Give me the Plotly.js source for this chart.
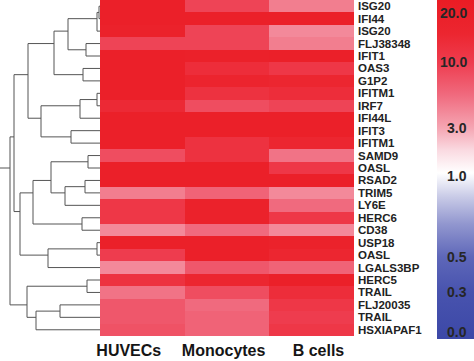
<!DOCTYPE html>
<html>
<head>
<meta charset="utf-8">
<script src="https://cdn.plot.ly/plotly-3.0.1.min.js"></script>
<style>html,body{margin:0;padding:0;background:#fff;}#chart{width:474px;height:361px;}</style>
</head>
<body>
<div id="chart"></div>
<script>
// ---- data ----
var cellTypes = ['HUVECs', 'Monocytes', 'B cells'];
var genes = ['ISG20','IFI44','ISG20','FLJ38348','IFIT1','OAS3','G1P2','IFITM1','IRF7','IFI44L',
             'IFIT3','IFITM1','SAMD9','OASL','RSAD2','TRIM5','LY6E','HERC6','CD38','USP18',
             'OASL','LGALS3BP','HERC5','TRAIL','FLJ20035','TRAIL','HSXIAPAF1'];
var huvecs    = [20,20,18,9,20,20,20,20,14,20,20,20,8,20,20,4.5,11,11,4,20,10,4,12,5,7,7,7.5];
var monocytes = [9,20,9,9,19,13,16,12,8,20,20,12,12,20,20,6,18,18,5.5,20,20,7,15,8,5.5,6,6];
var bcells    = [4.5,20,4,4.5,20,11,15,13,9,20,20,15,5,11,20,4,5.5,11,4,18,15,6,20,13,11,10,11];
var colorbarTickValues = [0, 0.3, 0.5, 1, 3, 10, 20];
var colorbarTickLabels = ['0.0','0.3','0.5','1.0','3.0','10.0','20.0'];
// dendrogram linkage: [childA, childB, height]; ids < 27 are leaves, >= 27 are earlier merges
var merges = [
  [0,1,1],[27,2,3],[3,4,14],[28,29,32],[5,6,17],[30,31,46],
  [7,8,3],[33,9,20],[10,11,29],[34,35,59],[32,36,72],
  [12,13,12],[14,15,15],[39,16,35],[38,40,49],[17,18,18],[41,42,67],
  [19,20,3],[44,21,52],[43,45,80],[37,46,86],
  [22,23,13],[24,25,40],[49,26,64],[48,50,73],[47,51,90]
];
var rootHeight = 100;

// ---- colour position mapping (colour bar positions of the tick values) ----
var tickPos = [0.021, 0.139, 0.242, 0.481, 0.622, 0.817, 0.962];
function toPos(v) {
  var t = colorbarTickValues;
  if (v <= t[0]) return tickPos[0];
  for (var i = 1; i < t.length; i++) {
    if (v <= t[i]) {
      var f;
      if (t[i-1] <= 0) f = (v - t[i-1]) / (t[i] - t[i-1]);
      else f = Math.log(v / t[i-1]) / Math.log(t[i] / t[i-1]);
      return tickPos[i-1] + f * (tickPos[i] - tickPos[i-1]);
    }
  }
  var n = t.length - 1;
  var slope = (tickPos[n] - tickPos[n-1]) / Math.log(t[n] / t[n-1]);
  return Math.min(1, tickPos[n] + slope * Math.log(v / t[n]));
}

var rows = genes.map(function (g, i) { return i; });
var z = rows.map(function (i) {
  return [toPos(huvecs[i]), toPos(monocytes[i]), toPos(bcells[i])];
});

// ---- dendrogram coordinates ----
var nLeaf = genes.length;
var nodePos = [], nodeH = [], nodeLeaves = [];
for (var i = 0; i < nLeaf; i++) { nodePos.push(i); nodeH.push(0); nodeLeaves.push([i]); }
var dx = [], dy = [];
merges.forEach(function (m) {
  var a = m[0], b = m[1], h = m[2];
  dx.push(nodeH[a], h, h, nodeH[b], null);
  dy.push(nodePos[a], nodePos[a], nodePos[b], nodePos[b], null);
  var leaves = nodeLeaves[a].concat(nodeLeaves[b]);
  var s = 0; leaves.forEach(function (l) { s += l; });
  nodeLeaves.push(leaves); nodePos.push(s / leaves.length); nodeH.push(h);
});
var root = nodePos.length - 1;
dx.push(nodeH[root], rootHeight, null);
dy.push(nodePos[root], nodePos[root], null);

var boldFont = 'Liberation Sans, Arial, sans-serif';

// colour bar geometry (paper fractions)
var cbLen = 339 / 361;
var cbBottom = 1 - cbLen;
var cbAnnotations = colorbarTickLabels.map(function (lab, i) {
  return {
    xref: 'paper', yref: 'paper',
    x: 469 / 474, xanchor: 'right',
    y: cbBottom + tickPos[i] * cbLen, yanchor: 'middle',
    text: lab, showarrow: false,
    font: { family: boldFont, size: 14, weight: 'bold', color: '#262626' }
  };
});

var traces = [
  {
    type: 'heatmap',
    x: [0, 1, 2], y: rows, z: z,
    zmin: 0, zmax: 1,
    colorscale: [
      [0, '#3c48a7'], [0.139, '#4853ae'], [0.242, '#5e67b9'], [0.34, '#9297cf'],
      [0.42, '#c9cbe7'], [0.49, '#ffffff'], [0.555, '#fadbe2'], [0.622, '#f5a6b3'],
      [0.72, '#f06a7e'], [0.817, '#ee3c4e'], [0.9, '#ec2630'], [1, '#ea1c24']
    ],
    colorbar: {
      x: 437 / 474, xanchor: 'left', xpad: 0,
      y: 1, yanchor: 'top', ypad: 0,
      len: cbLen, lenmode: 'fraction',
      thickness: 37, thicknessmode: 'pixels',
      outlinewidth: 0,
      tickvals: tickPos, showticklabels: false, ticks: ''
    },
    xaxis: 'x', yaxis: 'y'
  },
  {
    type: 'scatter', mode: 'lines',
    x: dx, y: dy, connectgaps: false,
    line: { color: '#555555', width: 1 },
    hoverinfo: 'skip',
    xaxis: 'x2', yaxis: 'y'
  }
];

var layout = {
  width: 474, height: 361,
  margin: { l: 0, r: 0, t: 0, b: 0, pad: 0 },
  paper_bgcolor: '#ffffff', plot_bgcolor: '#ffffff',
  showlegend: false,
  annotations: cbAnnotations,
  xaxis: {
    domain: [100 / 474, 354 / 474], range: [-0.5, 2.5],
    tickvals: [-0.16, 0.96, 2.08], ticktext: cellTypes,
    ticks: '', showgrid: false, zeroline: false, showline: false,
    ticklabelstandoff: 3,
    tickfont: { family: boldFont, size: 16, weight: 'bold', color: '#151515' },
    anchor: 'y'
  },
  xaxis2: {
    domain: [0, 100 / 474], range: [rootHeight, 0],
    showticklabels: false, ticks: '', showgrid: false, zeroline: false, showline: false,
    anchor: 'y'
  },
  yaxis: {
    domain: [25 / 361, 1], range: [26.5, -0.5],
    tickvals: rows, ticktext: genes,
    side: 'right', anchor: 'x',
    ticks: '', showgrid: false, zeroline: false, showline: false,
    ticklabelstandoff: 3,
    tickfont: { family: boldFont, size: 11.5, weight: 'bold', color: '#222222' }
  }
};

Plotly.newPlot('chart', traces, layout, { staticPlot: true, displayModeBar: false });
</script>
</body>
</html>
